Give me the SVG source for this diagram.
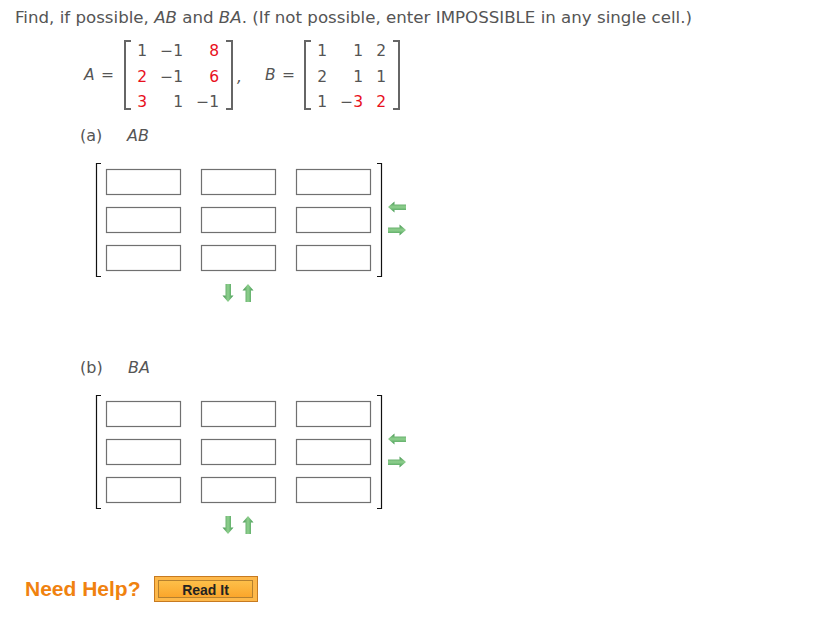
<svg xmlns="http://www.w3.org/2000/svg" xmlns:xlink="http://www.w3.org/1999/xlink" width="816" height="620" viewBox="0 0 816 620">
<style>
text{font-family:"DejaVu Sans","Liberation Sans",sans-serif;font-size:15.5px;fill:#555}
.l{font-size:16px}
.i{font-style:italic}
.r{fill:#e8101c}
.e{text-anchor:end}
.c{text-anchor:middle}
.cell{fill:#fff;stroke:#707070;stroke-width:1.2}
.br{fill:none;stroke:#111;stroke-width:1.2}
.mb{fill:none;stroke:#666;stroke-width:2}
</style>
<defs>
<linearGradient id="gh" x1="0" y1="0" x2="0" y2="1"><stop offset="0" stop-color="#3f8f4c"/><stop offset=".5" stop-color="#8fd08e"/><stop offset="1" stop-color="#3f9650"/></linearGradient>
<linearGradient id="gv" x1="0" y1="0" x2="1" y2="0"><stop offset="0" stop-color="#3f8f4c"/><stop offset=".5" stop-color="#8fd08e"/><stop offset="1" stop-color="#3f9650"/></linearGradient>
<linearGradient id="gb" x1="0" y1="0" x2="0" y2="1"><stop offset="0" stop-color="#fdc04a"/><stop offset="1" stop-color="#fba52a"/></linearGradient>
<path id="al" d="M0 0 L6.5 -5.5 L6.5 -2.5 L18 -2.5 L18 3 L6.5 3 L6.5 5.5 Z" fill="url(#gh)"/>
<path id="ar" d="M18 0 L11.5 -5.5 L11.5 -2.5 L0 -2.5 L0 3 L11.5 3 L11.5 5.5 Z" fill="url(#gh)"/>
<path id="ad" d="M0 18 L-5.5 11.5 L-2.5 11.5 L-2.5 0 L3 0 L3 11.5 L5.5 11.5 Z" fill="url(#gv)"/>
<path id="au" d="M0 0 L-5.5 6.5 L-2.5 6.5 L-2.5 18 L3 18 L3 6.5 L5.5 6.5 Z" fill="url(#gv)"/>
<g id="grid">
<path class="br" d="M101 163.5H96.5V276.5H101M377 163.5H381.5V276.5H377"/>
<rect class="cell" x="106.5" y="169.5" width="74" height="25"/><rect class="cell" x="201.5" y="169.5" width="74" height="25"/><rect class="cell" x="296.5" y="169.5" width="74" height="25"/>
<rect class="cell" x="106.5" y="207.5" width="74" height="25"/><rect class="cell" x="201.5" y="207.5" width="74" height="25"/><rect class="cell" x="296.5" y="207.5" width="74" height="25"/>
<rect class="cell" x="106.5" y="245.5" width="74" height="25"/><rect class="cell" x="201.5" y="245.5" width="74" height="25"/><rect class="cell" x="296.5" y="245.5" width="74" height="25"/>
<use xlink:href="#al" href="#al" x="388" y="207"/>
<use xlink:href="#ar" href="#ar" x="388" y="230"/>
<use xlink:href="#ad" href="#ad" x="228" y="284"/>
<use xlink:href="#au" href="#au" x="248" y="284"/>
</g>
</defs>
<text id="prompt" x="15" y="23" textLength="677" lengthAdjust="spacingAndGlyphs">Find, if possible, <tspan class="i">AB</tspan> and <tspan class="i">BA</tspan>. (If not possible, enter IMPOSSIBLE in any single cell.)</text>
<g id="matrixA">
<text class="i" x="84" y="80">A</text><text x="101" y="80">=</text>
<path class="mb" d="M131 41H125V109H131M226 41H232V109H226"/>
<text class="e" x="147" y="56">1</text><text class="e" x="183" y="56">−1</text><text class="e r" x="219" y="56">8</text>
<text class="e r" x="147" y="82">2</text><text class="e" x="183" y="82">−1</text><text class="e r" x="219" y="82">6</text>
<text class="e r" x="147" y="107">3</text><text class="e" x="183" y="107">1</text><text class="e" x="219" y="107">−1</text>
<text class="i" x="237" y="82">,</text>
</g>
<g id="matrixB">
<text class="i" x="265" y="80">B</text><text x="282" y="80">=</text>
<path class="mb" d="M311 41H305V109H311M393 41H399V109H393"/>
<text class="e" x="327" y="56">1</text><text class="e" x="363" y="56">1</text><text class="e" x="386" y="56">2</text>
<text class="e" x="327" y="82">2</text><text class="e" x="363" y="82">1</text><text class="e" x="386" y="82">1</text>
<text class="e" x="327" y="107">1</text><text class="e" x="363" y="107">−<tspan class="r">3</tspan></text><text class="e r" x="386" y="107">2</text>
</g>
<g id="partA">
<text class="l" x="80" y="141">(a)</text><text class="i l" x="127" y="141">AB</text>
<use xlink:href="#grid" href="#grid"/>
</g>
<g id="partB">
<text class="l" x="80" y="373">(b)</text><text class="i l" x="128" y="373">BA</text>
<use xlink:href="#grid" href="#grid" y="232"/>
</g>
<g id="help">
<text x="25" y="596" style="font-family:'Liberation Sans',sans-serif;font-size:21px;font-weight:bold;fill:#f0820f">Need Help?</text>
<rect x="154.5" y="576.5" width="103" height="25" fill="#fdb84a" stroke="#c77a20"/>
<rect x="158.5" y="580.5" width="94" height="17" fill="url(#gb)" stroke="#b5802e"/>
<text class="c" x="205.5" y="595" style="font-family:'Liberation Sans',sans-serif;font-size:14px;font-weight:bold;fill:#222">Read It</text>
</g>
</svg>
